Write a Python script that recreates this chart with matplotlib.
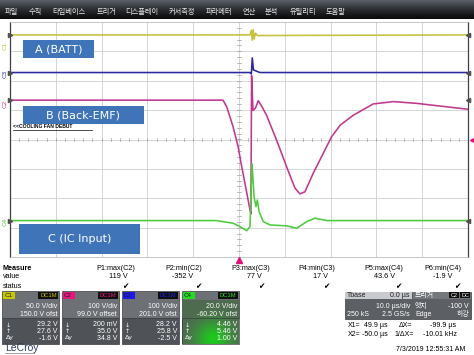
import numpy as np
import matplotlib
matplotlib.use("Agg")
import matplotlib.pyplot as plt
from matplotlib.patches import Rectangle
from matplotlib.colors import LinearSegmentedColormap

plt.rcParams['font.family'] = ['Liberation Sans', 'DejaVu Sans', 'Noto Sans CJK KR']

# ---- waveform data (time in us, voltage in V) ----
c1_t = [-50, 2.4, 2.7, 2.9, 3.1, 3.3, 3.6, 4.0, 50]
c1_v = [28, 28, 36, 19, 37, 21, 31, 27, 28]

c3_t = [-50, 2.4, 2.7, 2.9, 3.15, 3.9, 4.6, 50]
c3_v = [27, 27, 22, 77, 36, 31, 27, 27]

c2_t = [-50, -3.5, -2.7, -1.3, -0.2, 0.6, 1.7, 2.4, 2.6, 2.75, 3.05, 3.6, 4.2, 5.0, 6.0,
        8.2, 10.4, 12.2, 13.3, 14.4, 16.2, 18.4, 20.2, 22.1, 25.0, 29.3, 33.7, 38.8, 43.8, 50]
c2_v = [35, 35, 13, -55, -123, -192, -281, -339, -352, 119, 0, 8, 33, 13, -16,
        -101, -192, -264, -284, -277, -214, -146, -90, -50, -16, 22, 30, 24, 15, 4]

c4_t = [-50, -5.0, -1.3, 0.2, 1.7, 2.4, 2.85, 3.3, 3.7, 4.0, 4.4, 5.3, 6.8, 10.4, 12.6, 14.8, 16.6, 19.2, 50]
c4_v = [5, 5, 3.2, 0.9, -1.9, 0.9, 43.6, 21, 14.5, 19, 11, 4.3, 2.0, 1.4, -0.2, 4.3, 6.6, 5, 5]

# channel settings: volts/div, offset
ch_scale = {'C1': 50.0, 'C2': 100.0, 'C3': 100.0, 'C4': 20.0}
ch_offset = {'C1': 150.0, 'C2': 99.0, 'C3': 201.0, 'C4': -60.2}
ch_color = {'C1': '#c4c23c', 'C2': '#c0388c', 'C3': '#2a2aa0', 'C4': '#4ccc3c'}
tag_color = {'C1': '#c8c800', 'C2': '#e8157e', 'C3': '#1a1aee', 'C4': '#22dd22'}
time_div = 10.0

menu_items = ['파일', '수직', '타임베이스', '트리거', '디스플레이', '커서측정', '파라메터', '연산', '분석', '유틸리티', '도움말']
menu_x = [5, 29, 52, 97, 125, 169, 206, 243, 265, 290, 326]

meas_names = ['P1:max(C2)', 'P2:min(C2)', 'P3:max(C3)', 'P4:min(C3)', 'P5:max(C4)', 'P6:min(C4)']
meas_values = ['119 V', '-352 V', '77 V', '17 V', '43.6 V', '-1.9 V']

box_rows = {
    'C1': ['50.0 V/div', '150.0 V ofst', '29.2 V', '27.6 V', '-1.6 V'],
    'C2': ['100 V/div', '99.0 V offset', '200 mV', '35.0 V', '34.8 V'],
    'C3': ['100 V/div', '201.0 V ofst', '28.2 V', '25.8 V', '-2.5 V'],
    'C4': ['20.0 V/div', '-60.20 V ofst', '4.46 V', '5.46 V', '1.00 V'],
}

W, H = 474, 355
fig = plt.figure(figsize=(W / 100, H / 100), dpi=100)
fig.patch.set_facecolor('white')

# scope grid axes: pixels x 10..468, y 22..257
ax = fig.add_axes([10 / W, 1 - 257 / H, 458 / W, 235 / H], zorder=2)
ax.set_xlim(-5, 5)
ax.set_ylim(-4, 4)
ax.set_xticks([])
ax.set_yticks([])
for k in range(-4, 5):
    ax.axvline(k, color='#cfcfcf', lw=0.6, zorder=0)
for k in range(-3, 4):
    ax.axhline(k, color='#cfcfcf', lw=0.6, zorder=0)
# minor ticks on the centre lines
for m in np.arange(-5, 5.01, 0.2):
    ax.plot([m, m], [-0.05, 0.05], color='#a0a0a0', lw=0.5, zorder=0)
for m in np.arange(-4, 4.01, 0.2):
    ax.plot([-0.04, 0.04], [m, m], color='#a0a0a0', lw=0.5, zorder=0)
for s in ['left', 'right']:
    ax.spines[s].set_color('#404040')
    ax.spines[s].set_linewidth(0.9)
for s in ['top', 'bottom']:
    ax.spines[s].set_color('#bdbdbd')
    ax.spines[s].set_linewidth(0.6)

traces = [('C1', c1_t, c1_v), ('C3', c3_t, c3_v), ('C2', c2_t, c2_v), ('C4', c4_t, c4_v)]
for name, t, v in traces:
    x = np.array(t) / time_div
    y = (np.array(v) + ch_offset[name]) / ch_scale[name]
    ax.plot(x, y, color=ch_color[name], lw=1.15, zorder=3)
    base = (v[0] + ch_offset[name]) / ch_scale[name]
    ax.plot([-5], [base], marker='>', ms=3, color='#505050', clip_on=False, zorder=4)
    ax.plot([5], [base], marker='<', ms=3, color='#505050', clip_on=False, zorder=4)

# trigger markers
ax.plot([5.12], [0], marker='<', ms=4, color='#e0107a', clip_on=False, zorder=5)
ax.plot([0], [-4.1], marker='^', ms=4, color='#e0107a', clip_on=False, zorder=5)

# overlay in pixel coordinates
ov = fig.add_axes([0, 0, 1, 1], zorder=3)
ov.patch.set_alpha(0)
ov.axis('off')

# menu bar
cmap = LinearSegmentedColormap.from_list('bar', ['#5a5f68', '#2a2c30', '#0a0a0a'])
ov.imshow(np.linspace(0, 1, 40).reshape(-1, 1), extent=[0, W, 19, 0], cmap=cmap, aspect='auto')
ov.set_xlim(0, W)
ov.set_ylim(H, 0)
for item, mx in zip(menu_items, menu_x):
    ov.text(mx, 12, item, color='#e8e8e8', fontsize=5.2, va='center', ha='left',
            family=['Noto Sans CJK KR', 'DejaVu Sans'])

# channel labels on the left edge
for name, ly in [('C1', 46), ('C3', 74), ('C2', 104), ('C4', 222)]:
    ov.text(5.5, ly, name, color=ch_color[name], fontsize=4.6, rotation=90, ha='center', va='center',
            family='DejaVu Sans')

# annotation boxes
for bx, by, bw, bh, label in [(23, 40, 71, 18, 'A (BATT)'), (23, 106, 121, 18, 'B (Back-EMF)'),
                               (19, 224, 121, 30, 'C (IC Input)')]:
    ov.add_patch(Rectangle((bx, by), bw, bh, facecolor='#3f74b8', edgecolor='none'))
    ov.text(bx + bw / 2, by + bh / 2, label, color='white', fontsize=8, ha='center', va='center',
            family='DejaVu Sans')
ov.text(13, 127, '<<COOLING FAN DEBUT', fontsize=3.6, weight='bold', color='black', va='center')
ov.plot([13, 92], [129.5, 129.5], color='black', lw=0.5)

# measurement table
ov.text(3, 268, 'Measure', fontsize=5.2, weight='bold', va='center')
ov.text(3, 277, 'value', fontsize=5.2, va='center')
ov.text(3, 286, 'status', fontsize=5.2, va='center')
name_right = [135, 201.7, 270, 335.7, 403.3, 461.7]
val_right = [127.7, 193, 262.3, 327.7, 395, 453]
check_x = [125, 198, 261.7, 326.7, 398, 457.7]
for n, v, xr, xv, xc in zip(meas_names, meas_values, name_right, val_right, check_x):
    ov.text(xr, 268, n, fontsize=5.2, ha='right', va='center')
    ov.text(xv, 277, v, fontsize=5.2, ha='right', va='center')
    ov.text(xc, 286.5, '✔', fontsize=5.5, ha='center', va='center', family='DejaVu Sans')

# channel boxes
glow = np.exp(-((np.linspace(-1, 1, 60)[None, :] - 0.1) ** 2 * 2.5 + (np.linspace(-1, 1, 40)[:, None] - 0.8) ** 2 * 1.5))
green_cmap = LinearSegmentedColormap.from_list('g', ['#4f6a50', '#1ec81e'])
for name, x0 in zip(['C1', 'C2', 'C3', 'C4'], [2.5, 62, 122, 182]):
    ov.add_patch(Rectangle((x0, 291), 57, 27, facecolor='#6d7075', edgecolor='#3a3c40', lw=0.5))
    if name == 'C4':
        ov.imshow(glow, extent=[x0, x0 + 57, 344, 300], cmap=green_cmap, aspect='auto', zorder=1)
        ov.set_xlim(0, W)
        ov.set_ylim(H, 0)
        ov.add_patch(Rectangle((x0, 318), 57, 26, facecolor='none', edgecolor='#3a3c40', lw=0.5))
    else:
        ov.add_patch(Rectangle((x0, 318), 57, 26, facecolor='#4f5257', edgecolor='#3a3c40', lw=0.5))
    ov.add_patch(Rectangle((x0 + 1, 292), 12, 7, facecolor=tag_color[name], edgecolor='none', zorder=2))
    ov.text(x0 + 2, 295.6, name, fontsize=4.5, color='#202020', va='center', zorder=3)
    ov.add_patch(Rectangle((x0 + 36, 292), 20, 7, facecolor='#101010', edgecolor='none', zorder=2))
    ov.text(x0 + 46, 295.6, 'DC1M', fontsize=4.2, color=tag_color[name], ha='center', va='center', zorder=3)
    rows = box_rows[name]
    ov.text(x0 + 55, 306.5, rows[0], fontsize=5, color='white', ha='right', va='center', zorder=3)
    ov.text(x0 + 55, 314, rows[1], fontsize=5, color='white', ha='right', va='center', zorder=3)
    for sym, val, ry in zip(['↓', '↑', 'Δy'], rows[2:], [325, 331.5, 338]):
        ov.text(x0 + 3, ry, sym, fontsize=4.5, color='white', va='center', zorder=3, family='DejaVu Sans')
        ov.text(x0 + 55, ry, val, fontsize=5, color='white', ha='right', va='center', zorder=3)

# timebase and trigger boxes
ov.add_patch(Rectangle((345, 291.5), 67, 27.5, facecolor='#5c5f64', edgecolor='#3a3c40', lw=0.5))
ov.add_patch(Rectangle((345, 291.5), 67, 7.5, facecolor='#c8cacd', edgecolor='none'))
ov.text(347, 295.3, 'Tbase', fontsize=5, color='#202020', va='center')
ov.text(410, 295.3, '0.0 µs', fontsize=5, color='#202020', ha='right', va='center')
ov.text(410, 306, '10.0 µs/div', fontsize=5, color='white', ha='right', va='center')
ov.text(347, 314, '250 kS', fontsize=5, color='white', va='center')
ov.text(410, 314, '2.5 GS/s', fontsize=5, color='white', ha='right', va='center')

ov.add_patch(Rectangle((413, 291.5), 58, 27.5, facecolor='#5c5f64', edgecolor='#3a3c40', lw=0.5))
ov.add_patch(Rectangle((413, 291.5), 58, 7.5, facecolor='#74777c', edgecolor='none'))
ov.text(415, 295.3, '트리거', fontsize=5, color='white', va='center', family=['Noto Sans CJK KR'])
ov.add_patch(Rectangle((449, 292.3), 10, 6, facecolor='#101010', edgecolor='none'))
ov.add_patch(Rectangle((460, 292.3), 10, 6, facecolor='#101010', edgecolor='none'))
ov.text(454, 295.3, 'C2', fontsize=4, color='white', ha='center', va='center')
ov.text(465, 295.3, 'DC', fontsize=4, color='white', ha='center', va='center')
ov.text(415, 306, '엣지', fontsize=5, color='white', va='center', family=['Noto Sans CJK KR'])
ov.text(469, 306, '-100 V', fontsize=5, color='white', ha='right', va='center')
ov.text(415, 314, 'Edge', fontsize=5, color='white', va='center')
ov.text(469, 314, '하강', fontsize=5, color='white', ha='right', va='center', family=['Noto Sans CJK KR'])

# cursor readouts
ov.text(348, 325.7, 'X1=', fontsize=5, va='center')
ov.text(388, 325.7, '49.9 µs', fontsize=5, ha='right', va='center')
ov.text(399, 325.7, 'ΔX=', fontsize=5, va='center')
ov.text(455.7, 325.7, '-99.9 µs', fontsize=5, ha='right', va='center')
ov.text(348, 334.3, 'X2=', fontsize=5, va='center')
ov.text(388, 334.3, '-50.0 µs', fontsize=5, ha='right', va='center')
ov.text(394.3, 334.3, '1/ΔX=', fontsize=5, va='center')
ov.text(456.7, 334.3, '-10.01 kHz', fontsize=5, ha='right', va='center')
ov.text(465, 349.3, '7/3/2019 12:55:31 AM', fontsize=5, ha='right', va='center')

# logo
ov.text(5, 348, 'LeCroy', fontsize=7.5, color='#2b3d63', va='center')
ov.add_patch(Rectangle((5, 352.5), 30, 1.5, facecolor='#a0a4aa', edgecolor='none'))

fig.savefig('out.png', dpi=100)
